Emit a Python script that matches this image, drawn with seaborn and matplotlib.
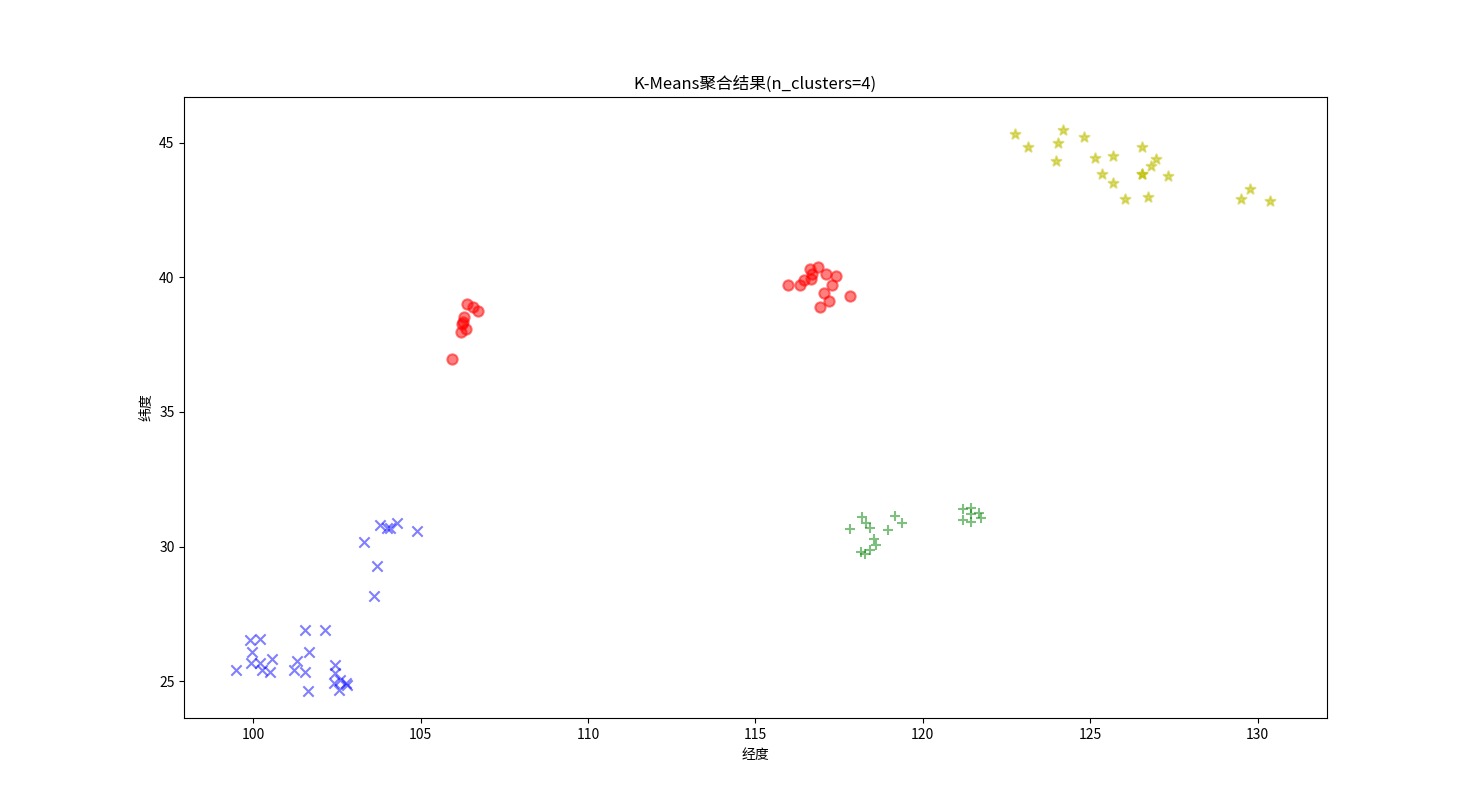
import numpy as np
import pandas as pd
import matplotlib
matplotlib.use('Agg')
import matplotlib.pyplot as plt
import seaborn as sns

plt.rcParams['font.family'] = ['Noto Sans CJK SC', 'DejaVu Sans']
plt.rcParams['axes.unicode_minus'] = False

# cluster 0 - blue x
lng_0 = [103.8, 104.0, 104.1, 104.3, 104.9, 103.3, 103.7, 103.6, 101.55, 102.15,
         99.89, 100.19, 99.96, 101.68, 99.94, 100.21, 100.56, 101.30, 99.49, 100.26,
         100.51, 101.22, 101.55, 102.45, 102.45, 102.40, 102.60, 102.78, 102.80, 102.55, 101.65]
lat_0 = [30.80, 30.70, 30.68, 30.86, 30.58, 30.18, 29.29, 28.17, 26.90, 26.90,
         26.52, 26.55, 26.09, 26.07, 25.68, 25.66, 25.81, 25.75, 25.43, 25.43,
         25.33, 25.40, 25.32, 25.58, 25.29, 24.94, 25.04, 24.94, 24.85, 24.67, 24.64]

# cluster 1 - red o
lng_1 = [106.40, 106.56, 106.71, 106.31, 106.28, 106.23, 106.36, 106.21, 105.95,
         116.63, 116.86, 116.68, 117.10, 117.42, 116.66, 116.46, 115.98, 116.33,
         117.29, 117.04, 117.82, 117.20, 116.93]
lat_1 = [39.01, 38.91, 38.77, 38.52, 38.36, 38.27, 38.07, 37.96, 36.97,
         40.32, 40.37, 40.13, 40.13, 40.06, 39.93, 39.91, 39.72, 39.70,
         39.72, 39.41, 39.31, 39.13, 38.89]

# cluster 2 - green +
lng_2 = [117.82, 118.19, 118.29, 118.42, 119.16, 119.39, 118.95, 118.54, 118.60,
         118.42, 118.15, 118.27, 121.20, 121.45, 121.45, 121.68, 121.75, 121.20, 121.45]
lat_2 = [30.65, 31.09, 30.86, 30.68, 31.14, 30.88, 30.61, 30.28, 30.06,
         29.87, 29.81, 29.71, 31.39, 31.42, 31.21, 31.23, 31.05, 30.99, 30.90]

# cluster 3 - yellow *
lng_3 = [122.75, 123.14, 124.19, 124.04, 123.99, 124.81, 125.13, 125.68, 125.35,
         125.68, 126.03, 126.55, 126.96, 126.83, 126.56, 126.56, 127.32, 126.73,
         129.76, 129.51, 130.36]
lat_3 = [45.33, 44.83, 45.48, 45.01, 44.31, 45.20, 44.45, 44.53, 43.85,
         43.52, 42.92, 44.83, 44.39, 44.14, 43.84, 43.84, 43.75, 42.97,
         43.29, 42.92, 42.84]

clusters = [(lng_0, lat_0, 'b', 'x'),
            (lng_1, lat_1, 'r', 'o'),
            (lng_2, lat_2, 'g', '+'),
            (lng_3, lat_3, 'y', '*')]

x_range = (97.94, 132.06)
y_range = (23.62, 46.71)

fig = plt.figure(figsize=(14.74, 8.07), dpi=100)
ax = plt.gca()
for lng, lat, c, m in clusters:
    df = pd.DataFrame({'lng': lng, 'lat': lat})
    if m in ('x', '+'):
        sns.scatterplot(data=df, x='lng', y='lat', marker=m, color=c, s=55,
                        alpha=0.5, linewidth=1.5, ax=ax)
    else:
        sns.scatterplot(data=df, x='lng', y='lat', marker=m, color=c, s=55,
                        alpha=0.5, edgecolor=c, linewidth=1.5, ax=ax)

ax.set_xlim(x_range)
ax.set_ylim(y_range)
ax.set_title('K-Means聚合结果(n_clusters=4)')
ax.set_xlabel('经度')
ax.set_ylabel('纬度')
plt.savefig('out.png', dpi=100)
